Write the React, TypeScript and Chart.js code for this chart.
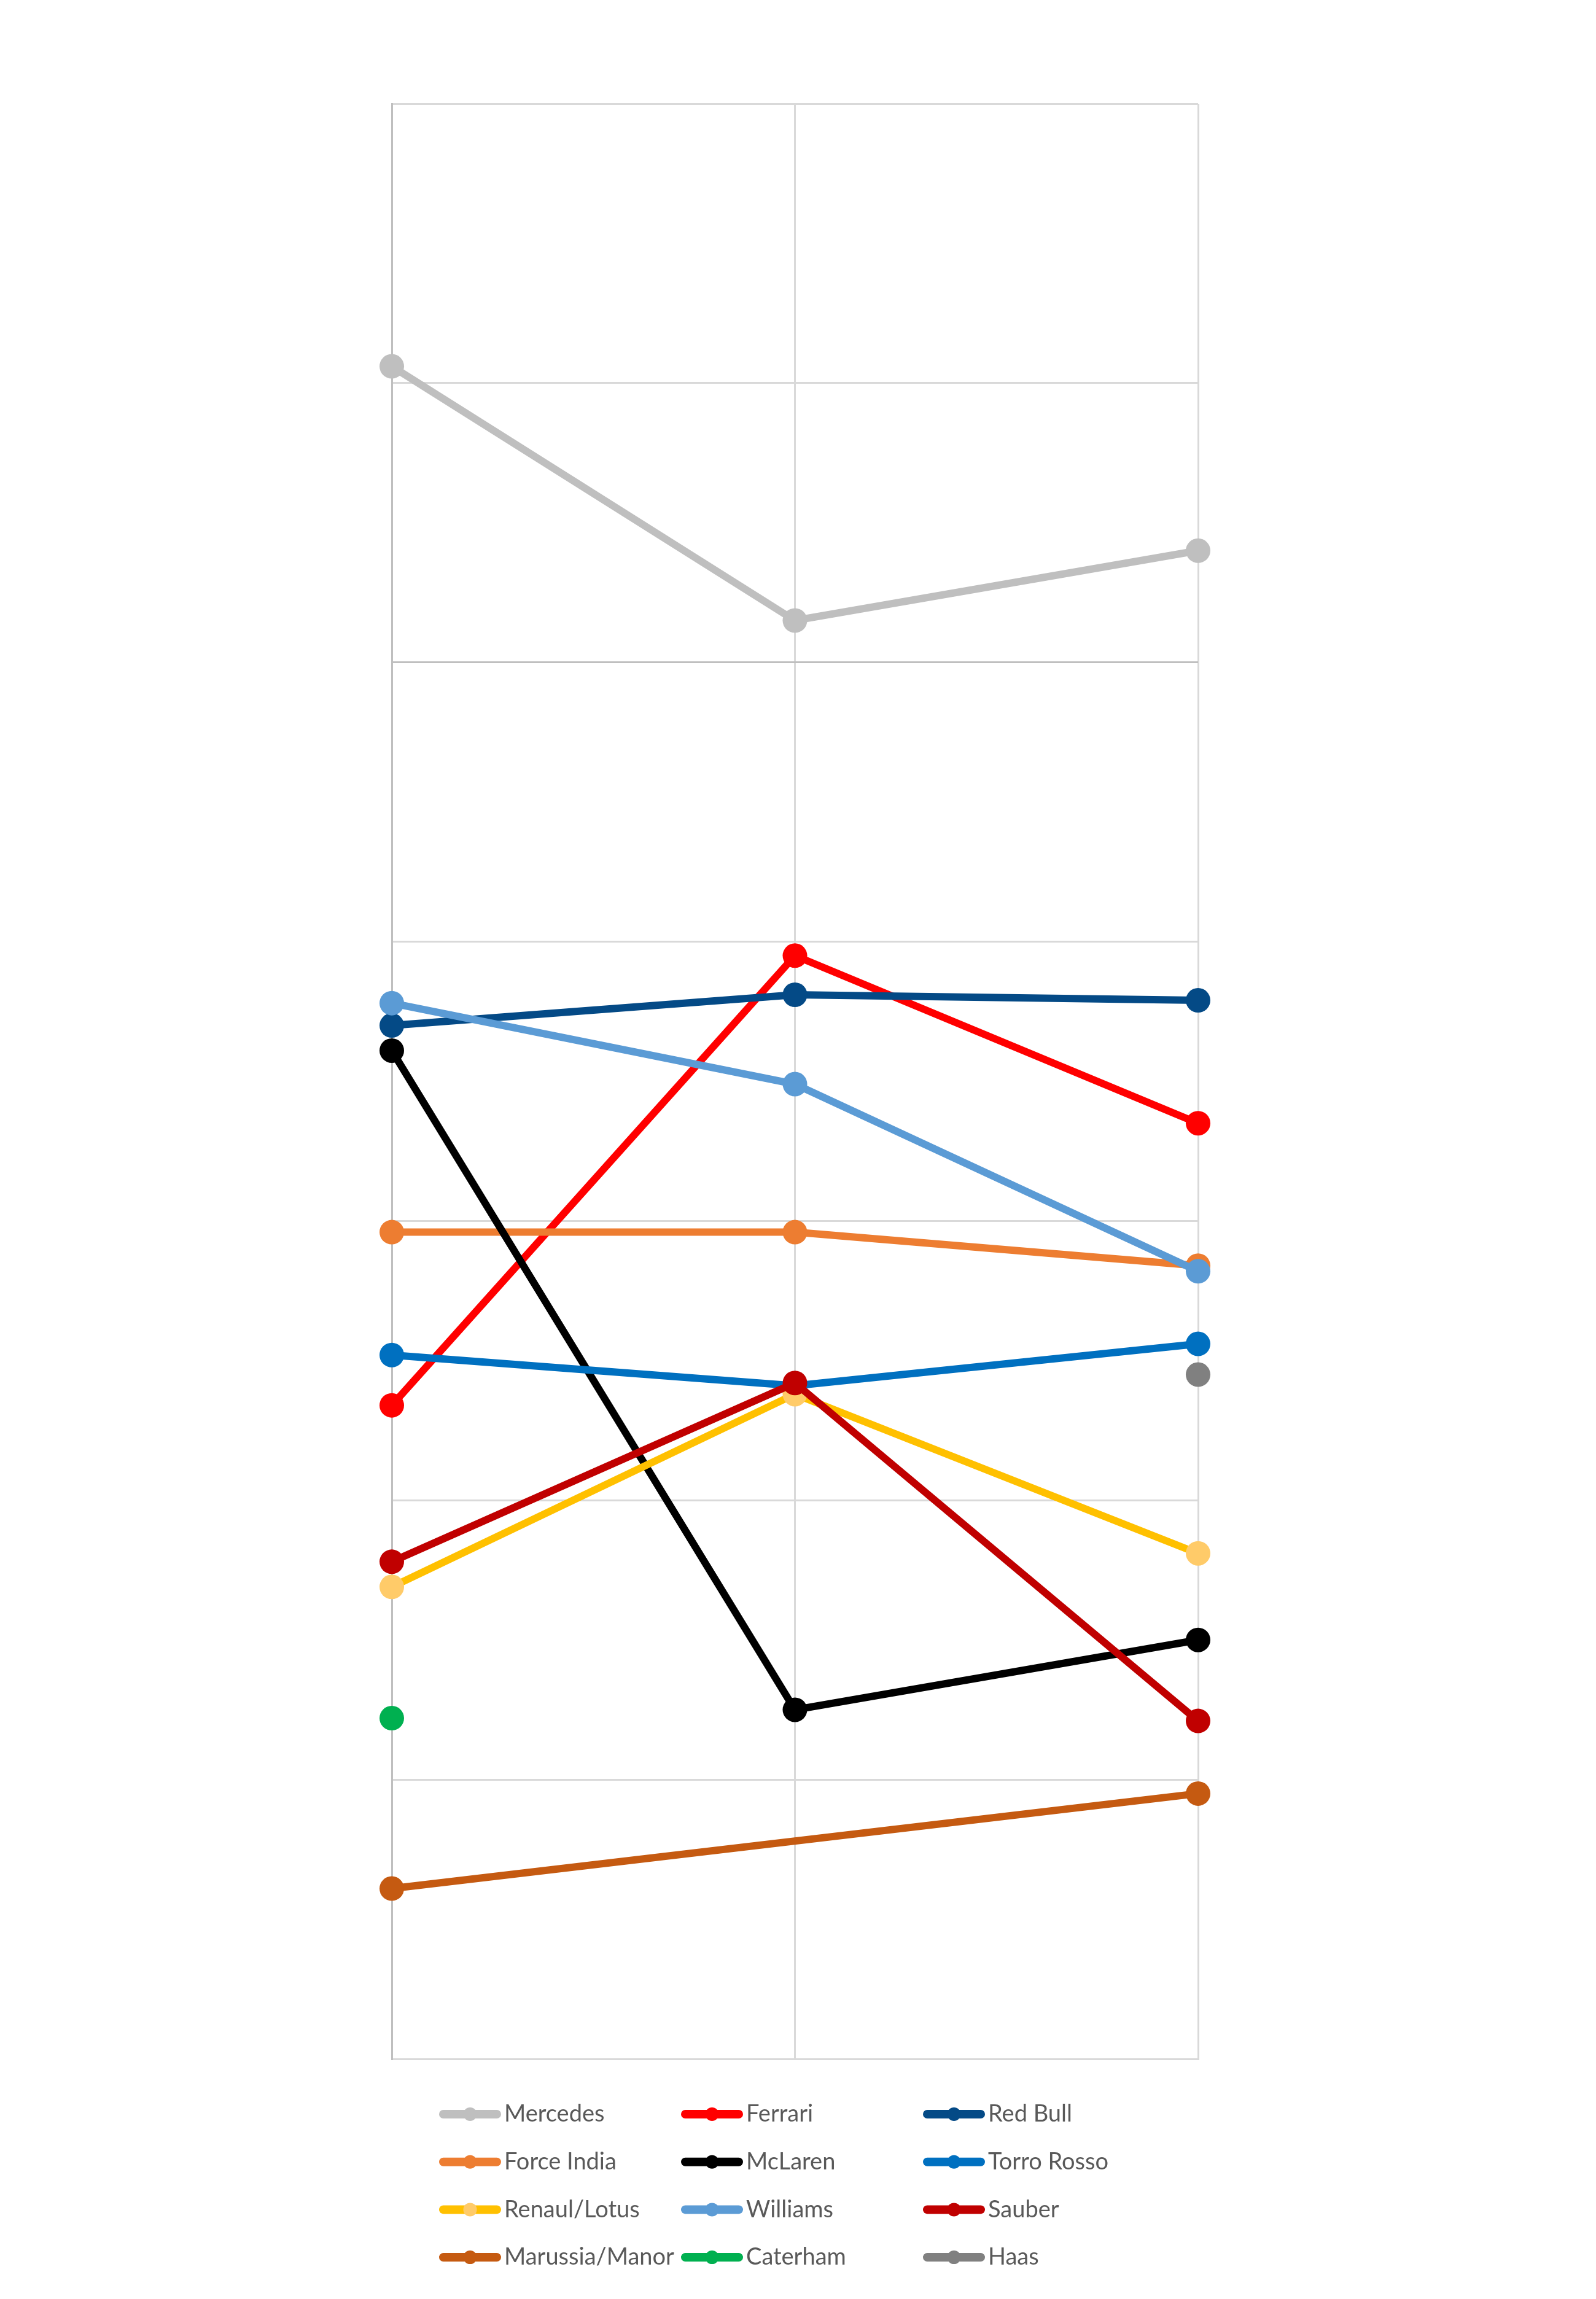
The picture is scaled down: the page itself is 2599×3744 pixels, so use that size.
import { useEffect, useRef } from 'react';
import { Chart, registerables } from 'chart.js';

Chart.register(...registerables);

// three seasons, axis labels are not shown on the original
const seasons = ['2014', '2015', '2016'];

const teams = [
  'Mercedes', 'Ferrari', 'Red Bull',
  'Force India', 'McLaren', 'Torro Rosso',
  'Renaul/Lotus', 'Williams', 'Sauber',
  'Marussia/Manor', 'Caterham', 'Haas',
];

const mercedes = [6.06, 5.15, 5.40];
const ferrari = [2.34, 3.95, 3.35];
const redBull = [3.70, 3.81, 3.79];
const forceIndia = [2.96, 2.96, 2.84];
const mclaren = [3.61, 1.25, 1.50];
const torroRosso = [2.52, 2.41, 2.56];
const renaultLotus = [1.69, 2.38, 1.81];
const williams = [3.78, 3.49, 2.82];
const sauber = [1.78, 2.42, 1.21];
const marussiaManor = [0.61, null, 0.95];
const caterham = [1.22, null, null];
const haas = [null, null, 2.45];

const series = [
  mercedes, ferrari, redBull,
  forceIndia, mclaren, torroRosso,
  renaultLotus, williams, sauber,
  marussiaManor, caterham, haas,
];

const lineColors = [
  '#BFBFBF', '#FF0000', '#044A86',
  '#ED7D31', '#000000', '#0070C0',
  '#FFC000', '#5B9BD5', '#C00000',
  '#C55A11', '#00B050', '#808080',
];
const markerColors = [
  '#BFBFBF', '#FF0000', '#044A86',
  '#ED7D31', '#000000', '#0070C0',
  '#FFCB69', '#5B9BD5', '#C00000',
  '#C55A11', '#00B050', '#808080',
];

const yMin = 0;
const yMax = 7;

// legend drawn as a 3 column grid like the Excel one
const gridLegend = {
  id: 'gridLegend',
  afterDraw(chart: any) {
    const ctx = chart.ctx;
    const left = 715;
    const colW = 394;
    const top = 3443;
    const rowH = 77.7;
    const lineLen = 101;

    ctx.save();
    ctx.font = '100px Lato';
    const size = (100 * 277) / ctx.measureText('Marussia/Manor').width;
    ctx.font = `${size}px Lato`;
    ctx.textBaseline = 'middle';
    teams.forEach((name, i) => {
      const x = left + (i % 3) * colW;
      const y = top + Math.floor(i / 3) * rowH;
      ctx.strokeStyle = lineColors[i];
      ctx.lineWidth = 14;
      ctx.lineCap = 'round';
      ctx.beginPath();
      ctx.moveTo(x + 7, y);
      ctx.lineTo(x + lineLen - 7, y);
      ctx.stroke();
      ctx.fillStyle = markerColors[i];
      ctx.beginPath();
      ctx.arc(x + lineLen / 2, y, 11, 0, Math.PI * 2);
      ctx.fill();
      ctx.fillStyle = '#595959';
      ctx.fillText(name, x + 106, y);
    });
    ctx.restore();
  },
};

export default function App() {
  const canvasRef = useRef<HTMLCanvasElement | null>(null);

  useEffect(() => {
    const ctx = canvasRef.current?.getContext('2d');
    if (!ctx) return;

    const chart = new Chart(ctx, {
      type: 'line',
      data: {
        labels: seasons,
        datasets: series.map((values, i) => ({
          label: teams[i],
          data: values,
          borderColor: lineColors[i],
          backgroundColor: markerColors[i],
          pointBackgroundColor: markerColors[i],
          pointBorderWidth: 0,
          pointRadius: 20,
          borderWidth: 12,
          tension: 0,
          spanGaps: true,
          clip: false as any,
          order: -i,
        })),
      },
      options: {
        animation: false,
        responsive: true,
        maintainAspectRatio: false,
        devicePixelRatio: 1,
        layout: {
          padding: { left: 638, right: 648, top: 169, bottom: 391 },
        },
        plugins: {
          legend: { display: false },
          tooltip: { enabled: false },
        },
        scales: {
          x: {
            offset: false,
            ticks: { display: false },
            grid: { color: '#D9D9D9', lineWidth: 3, drawTicks: false },
            border: { color: '#D9D9D9', width: 3 },
          },
          y: {
            min: yMin,
            max: yMax,
            ticks: { display: false, stepSize: 1 },
            grid: {
              color: (c: any) => (c.tick && c.tick.value === 5 ? '#BFBFBF' : '#D9D9D9'),
              lineWidth: 3,
              drawTicks: false,
            },
            border: { color: '#BFBFBF', width: 3 },
          },
        },
      },
      plugins: [gridLegend],
    });

    return () => {
      chart.destroy();
    };
  }, []);

  return (
    <div style={{ position: 'absolute', left: 0, top: 0, width: 2599, height: 3744, background: '#fff' }}>
      <canvas ref={canvasRef}></canvas>
    </div>
  );
}
